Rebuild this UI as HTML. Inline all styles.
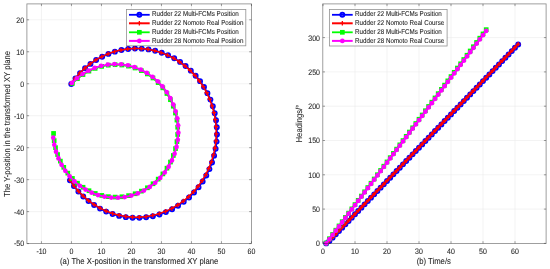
<!DOCTYPE html><html><head><meta charset="utf-8"><style>html,body{margin:0;padding:0;background:#fff;width:550px;height:269px;overflow:hidden}svg{display:block}text{font-family:"Liberation Sans",Arial,sans-serif;fill:#262626;text-rendering:geometricPrecision;stroke:#262626;stroke-width:0.08}</style></head><body>
<svg width="550" height="269" viewBox="0 0 550 269">
<rect width="550" height="269" fill="#fff"/>
<path d="M41.45 3.90V243.40M71.45 3.90V243.40M101.45 3.90V243.40M131.45 3.90V243.40M161.45 3.90V243.40M191.45 3.90V243.40M221.45 3.90V243.40M26.90 211.62H251.40M26.90 179.65H251.40M26.90 147.68H251.40M26.90 115.71H251.40M26.90 83.74H251.40M26.90 51.77H251.40M26.90 19.80H251.40" stroke="#ebebeb" stroke-width="0.6" fill="none"/>
<path d="M355.00 3.90V243.40M387.00 3.90V243.40M419.00 3.90V243.40M451.00 3.90V243.40M483.00 3.90V243.40M515.00 3.90V243.40M322.80 209.10H546.10M322.80 174.80H546.10M322.80 140.50H546.10M322.80 106.20H546.10M322.80 71.90H546.10M322.80 37.60H546.10" stroke="#ebebeb" stroke-width="0.6" fill="none"/>
<svg x="26.90" y="3.90" width="224.50" height="239.50" overflow="visible"><g transform="translate(-26.90,-3.90)">
<path d="M71.26 84.00L75.44 78.35L80.05 73.09L85.07 68.26L90.45 63.90L96.17 60.03L102.17 56.69L108.42 53.89L114.88 51.65L121.48 50.00L128.20 48.95L134.98 48.50L141.77 48.65L148.52 49.40L155.19 50.76L161.73 52.70L168.09 55.22L174.22 58.30L180.08 61.91L185.64 66.03L190.84 70.64L195.66 75.68L200.06 81.14L204.00 86.97L207.46 93.14L210.42 99.58L212.84 106.27L214.73 113.15L216.06 120.18L216.81 127.30L217.00 134.45L216.61 141.60L215.65 148.69L214.13 155.67L212.05 162.49L209.44 169.10L206.30 175.46L202.67 181.51L198.56 187.21L194.02 192.53L189.06 197.43L183.73 201.86L178.06 205.81L172.10 209.24L165.88 212.12L159.45 214.44L152.87 216.18L146.16 217.32L139.39 217.87L132.60 217.81L125.84 217.14L119.15 215.88L112.59 214.02L106.20 211.59L100.03 208.60L94.13 205.06L88.52 201.02L83.26 196.49L78.38 191.50L73.92 186.10L69.91 180.33" stroke="#0000ff" stroke-width="1.8" fill="none" stroke-linejoin="round"/>
<g stroke="#0000ff" stroke-width="1.9" fill="none"><circle cx="71.26" cy="84.00" r="2.0"/><circle cx="75.44" cy="78.35" r="2.0"/><circle cx="80.05" cy="73.09" r="2.0"/><circle cx="85.07" cy="68.26" r="2.0"/><circle cx="90.45" cy="63.90" r="2.0"/><circle cx="96.17" cy="60.03" r="2.0"/><circle cx="102.17" cy="56.69" r="2.0"/><circle cx="108.42" cy="53.89" r="2.0"/><circle cx="114.88" cy="51.65" r="2.0"/><circle cx="121.48" cy="50.00" r="2.0"/><circle cx="128.20" cy="48.95" r="2.0"/><circle cx="134.98" cy="48.50" r="2.0"/><circle cx="141.77" cy="48.65" r="2.0"/><circle cx="148.52" cy="49.40" r="2.0"/><circle cx="155.19" cy="50.76" r="2.0"/><circle cx="161.73" cy="52.70" r="2.0"/><circle cx="168.09" cy="55.22" r="2.0"/><circle cx="174.22" cy="58.30" r="2.0"/><circle cx="180.08" cy="61.91" r="2.0"/><circle cx="185.64" cy="66.03" r="2.0"/><circle cx="190.84" cy="70.64" r="2.0"/><circle cx="195.66" cy="75.68" r="2.0"/><circle cx="200.06" cy="81.14" r="2.0"/><circle cx="204.00" cy="86.97" r="2.0"/><circle cx="207.46" cy="93.14" r="2.0"/><circle cx="210.42" cy="99.58" r="2.0"/><circle cx="212.84" cy="106.27" r="2.0"/><circle cx="214.73" cy="113.15" r="2.0"/><circle cx="216.06" cy="120.18" r="2.0"/><circle cx="216.81" cy="127.30" r="2.0"/><circle cx="217.00" cy="134.45" r="2.0"/><circle cx="216.61" cy="141.60" r="2.0"/><circle cx="215.65" cy="148.69" r="2.0"/><circle cx="214.13" cy="155.67" r="2.0"/><circle cx="212.05" cy="162.49" r="2.0"/><circle cx="209.44" cy="169.10" r="2.0"/><circle cx="206.30" cy="175.46" r="2.0"/><circle cx="202.67" cy="181.51" r="2.0"/><circle cx="198.56" cy="187.21" r="2.0"/><circle cx="194.02" cy="192.53" r="2.0"/><circle cx="189.06" cy="197.43" r="2.0"/><circle cx="183.73" cy="201.86" r="2.0"/><circle cx="178.06" cy="205.81" r="2.0"/><circle cx="172.10" cy="209.24" r="2.0"/><circle cx="165.88" cy="212.12" r="2.0"/><circle cx="159.45" cy="214.44" r="2.0"/><circle cx="152.87" cy="216.18" r="2.0"/><circle cx="146.16" cy="217.32" r="2.0"/><circle cx="139.39" cy="217.87" r="2.0"/><circle cx="132.60" cy="217.81" r="2.0"/><circle cx="125.84" cy="217.14" r="2.0"/><circle cx="119.15" cy="215.88" r="2.0"/><circle cx="112.59" cy="214.02" r="2.0"/><circle cx="106.20" cy="211.59" r="2.0"/><circle cx="100.03" cy="208.60" r="2.0"/><circle cx="94.13" cy="205.06" r="2.0"/><circle cx="88.52" cy="201.02" r="2.0"/><circle cx="83.26" cy="196.49" r="2.0"/><circle cx="78.38" cy="191.50" r="2.0"/><circle cx="73.92" cy="186.10" r="2.0"/><circle cx="69.91" cy="180.33" r="2.0"/></g>
<path d="M71.06 83.80L75.21 78.18L79.80 72.95L84.79 68.14L90.15 63.80L95.84 59.94L101.81 56.61L108.03 53.82L114.45 51.59L121.03 49.95L127.71 48.89L134.46 48.43L141.22 48.58L147.94 49.32L154.58 50.66L161.09 52.59L167.42 55.09L173.52 58.14L179.37 61.73L184.90 65.82L190.09 70.39L194.89 75.40L199.28 80.83L203.21 86.62L206.67 92.75L209.62 99.16L212.05 105.81L213.94 112.65L215.28 119.64L216.05 126.72L216.25 133.85L215.89 140.96L214.95 148.02L213.45 154.97L211.40 161.76L208.82 168.35L205.72 174.68L202.12 180.72L198.05 186.41L193.54 191.72L188.63 196.61L183.33 201.04L177.71 204.99L171.78 208.43L165.61 211.32L159.22 213.65L152.67 215.41L146.00 216.58L139.26 217.15L132.51 217.12L125.77 216.49L119.11 215.26L112.58 213.45L106.21 211.06L100.06 208.11L94.16 204.62L88.57 200.63L83.31 196.14L78.43 191.21L73.96 185.86L69.94 180.13" stroke="#ff0000" stroke-width="1.5" fill="none" stroke-linejoin="round"/>
<path d="M68.86 83.80h4.4M71.06 81.60v4.4M73.01 78.18h4.4M75.21 75.98v4.4M77.60 72.95h4.4M79.80 70.75v4.4M82.59 68.14h4.4M84.79 65.94v4.4M87.95 63.80h4.4M90.15 61.60v4.4M93.64 59.94h4.4M95.84 57.74v4.4M99.61 56.61h4.4M101.81 54.41v4.4M105.83 53.82h4.4M108.03 51.62v4.4M112.25 51.59h4.4M114.45 49.39v4.4M118.83 49.95h4.4M121.03 47.75v4.4M125.51 48.89h4.4M127.71 46.69v4.4M132.26 48.43h4.4M134.46 46.23v4.4M139.02 48.58h4.4M141.22 46.38v4.4M145.74 49.32h4.4M147.94 47.12v4.4M152.38 50.66h4.4M154.58 48.46v4.4M158.89 52.59h4.4M161.09 50.39v4.4M165.22 55.09h4.4M167.42 52.89v4.4M171.32 58.14h4.4M173.52 55.94v4.4M177.17 61.73h4.4M179.37 59.53v4.4M182.70 65.82h4.4M184.90 63.62v4.4M187.89 70.39h4.4M190.09 68.19v4.4M192.69 75.40h4.4M194.89 73.20v4.4M197.08 80.83h4.4M199.28 78.63v4.4M201.01 86.62h4.4M203.21 84.42v4.4M204.47 92.75h4.4M206.67 90.55v4.4M207.42 99.16h4.4M209.62 96.96v4.4M209.85 105.81h4.4M212.05 103.61v4.4M211.74 112.65h4.4M213.94 110.45v4.4M213.08 119.64h4.4M215.28 117.44v4.4M213.85 126.72h4.4M216.05 124.52v4.4M214.05 133.85h4.4M216.25 131.65v4.4M213.69 140.96h4.4M215.89 138.76v4.4M212.75 148.02h4.4M214.95 145.82v4.4M211.25 154.97h4.4M213.45 152.77v4.4M209.20 161.76h4.4M211.40 159.56v4.4M206.62 168.35h4.4M208.82 166.15v4.4M203.52 174.68h4.4M205.72 172.48v4.4M199.92 180.72h4.4M202.12 178.52v4.4M195.85 186.41h4.4M198.05 184.21v4.4M191.34 191.72h4.4M193.54 189.52v4.4M186.43 196.61h4.4M188.63 194.41v4.4M181.13 201.04h4.4M183.33 198.84v4.4M175.51 204.99h4.4M177.71 202.79v4.4M169.58 208.43h4.4M171.78 206.23v4.4M163.41 211.32h4.4M165.61 209.12v4.4M157.02 213.65h4.4M159.22 211.45v4.4M150.47 215.41h4.4M152.67 213.21v4.4M143.80 216.58h4.4M146.00 214.38v4.4M137.06 217.15h4.4M139.26 214.95v4.4M130.31 217.12h4.4M132.51 214.92v4.4M123.57 216.49h4.4M125.77 214.29v4.4M116.91 215.26h4.4M119.11 213.06v4.4M110.38 213.45h4.4M112.58 211.25v4.4M104.01 211.06h4.4M106.21 208.86v4.4M97.86 208.11h4.4M100.06 205.91v4.4M91.96 204.62h4.4M94.16 202.42v4.4M86.37 200.63h4.4M88.57 198.43v4.4M81.11 196.14h4.4M83.31 193.94v4.4M76.23 191.21h4.4M78.43 189.01v4.4M71.76 185.86h4.4M73.96 183.66v4.4M67.74 180.13h4.4M69.94 177.93v4.4" stroke="#ff0000" stroke-width="1.3" fill="none"/>
<path d="M72.33 83.43L77.42 78.69L82.97 74.58L88.91 71.13L95.17 68.38L101.66 66.38L108.33 65.15L115.08 64.69L121.83 65.02L128.52 66.12L135.05 68.00L141.35 70.62L147.34 73.95L152.96 77.96L158.14 82.60L162.81 87.81L166.93 93.53L170.44 99.69L173.29 106.22L175.47 113.05L176.94 120.08L177.68 127.25L177.68 134.45L176.95 141.62L175.49 148.66L173.33 155.48L170.48 162.02L166.98 168.19L162.87 173.91L158.20 179.13L153.03 183.77L147.42 187.79L141.42 191.13L135.13 193.76L128.60 195.65L121.92 196.77L115.16 197.10L108.41 196.66L101.75 195.43L95.25 193.44L88.99 190.71L83.05 187.26L77.49 183.16L72.39 178.43L67.80 173.14L63.77 167.34L60.36 161.12L57.61 154.54L55.54 147.67L54.18 140.61L53.56 133.44" stroke="#00ff00" stroke-width="1.8" fill="none" stroke-linejoin="round"/>
<g fill="#00ff00"><rect x="69.98" y="81.08" width="4.7" height="4.7"/><rect x="75.07" y="76.34" width="4.7" height="4.7"/><rect x="80.62" y="72.23" width="4.7" height="4.7"/><rect x="86.56" y="68.78" width="4.7" height="4.7"/><rect x="92.82" y="66.03" width="4.7" height="4.7"/><rect x="99.31" y="64.03" width="4.7" height="4.7"/><rect x="105.98" y="62.80" width="4.7" height="4.7"/><rect x="112.73" y="62.34" width="4.7" height="4.7"/><rect x="119.48" y="62.67" width="4.7" height="4.7"/><rect x="126.17" y="63.77" width="4.7" height="4.7"/><rect x="132.70" y="65.65" width="4.7" height="4.7"/><rect x="139.00" y="68.27" width="4.7" height="4.7"/><rect x="144.99" y="71.60" width="4.7" height="4.7"/><rect x="150.61" y="75.61" width="4.7" height="4.7"/><rect x="155.79" y="80.25" width="4.7" height="4.7"/><rect x="160.46" y="85.46" width="4.7" height="4.7"/><rect x="164.58" y="91.18" width="4.7" height="4.7"/><rect x="168.09" y="97.34" width="4.7" height="4.7"/><rect x="170.94" y="103.87" width="4.7" height="4.7"/><rect x="173.12" y="110.70" width="4.7" height="4.7"/><rect x="174.59" y="117.73" width="4.7" height="4.7"/><rect x="175.33" y="124.90" width="4.7" height="4.7"/><rect x="175.33" y="132.10" width="4.7" height="4.7"/><rect x="174.60" y="139.27" width="4.7" height="4.7"/><rect x="173.14" y="146.31" width="4.7" height="4.7"/><rect x="170.98" y="153.13" width="4.7" height="4.7"/><rect x="168.13" y="159.67" width="4.7" height="4.7"/><rect x="164.63" y="165.84" width="4.7" height="4.7"/><rect x="160.52" y="171.56" width="4.7" height="4.7"/><rect x="155.85" y="176.78" width="4.7" height="4.7"/><rect x="150.68" y="181.42" width="4.7" height="4.7"/><rect x="145.07" y="185.44" width="4.7" height="4.7"/><rect x="139.07" y="188.78" width="4.7" height="4.7"/><rect x="132.78" y="191.41" width="4.7" height="4.7"/><rect x="126.25" y="193.30" width="4.7" height="4.7"/><rect x="119.57" y="194.42" width="4.7" height="4.7"/><rect x="112.81" y="194.75" width="4.7" height="4.7"/><rect x="106.06" y="194.31" width="4.7" height="4.7"/><rect x="99.40" y="193.08" width="4.7" height="4.7"/><rect x="92.90" y="191.09" width="4.7" height="4.7"/><rect x="86.64" y="188.36" width="4.7" height="4.7"/><rect x="80.70" y="184.91" width="4.7" height="4.7"/><rect x="75.14" y="180.81" width="4.7" height="4.7"/><rect x="70.04" y="176.08" width="4.7" height="4.7"/><rect x="65.45" y="170.79" width="4.7" height="4.7"/><rect x="61.42" y="164.99" width="4.7" height="4.7"/><rect x="58.01" y="158.77" width="4.7" height="4.7"/><rect x="55.26" y="152.19" width="4.7" height="4.7"/><rect x="53.19" y="145.32" width="4.7" height="4.7"/><rect x="51.83" y="138.26" width="4.7" height="4.7"/><rect x="51.21" y="131.09" width="4.7" height="4.7"/></g>
<path d="M71.91 82.97L76.99 78.24L82.52 74.12L88.44 70.66L94.67 67.89L101.15 65.86L107.79 64.57L114.52 64.06L121.26 64.32L127.94 65.35L134.48 67.13L140.80 69.66L146.83 72.90L152.50 76.80L157.74 81.34L162.49 86.44L166.70 92.06L170.32 98.14L173.31 104.59L175.63 111.34L177.25 118.32L178.16 125.45L178.35 132.64L177.81 139.81L176.55 146.88L174.59 153.76L171.94 160.38L168.64 166.65L164.73 172.51L160.25 177.89L155.25 182.73L149.80 186.97L143.95 190.55L137.77 193.45L131.33 195.62L124.72 197.04L118.00 197.70L111.25 197.58L104.55 196.69L97.98 195.04L91.61 192.65L85.53 189.54L79.79 185.75L74.47 181.33L69.62 176.32L65.31 170.79L61.57 164.80L58.47 158.41L56.03 151.70L54.27 144.76L53.23 137.65" stroke="#ff00ff" stroke-width="1.8" fill="none" stroke-linejoin="round"/>
<g fill="#ff00ff"><circle cx="71.91" cy="82.97" r="2.35"/><circle cx="76.99" cy="78.24" r="2.35"/><circle cx="82.52" cy="74.12" r="2.35"/><circle cx="88.44" cy="70.66" r="2.35"/><circle cx="94.67" cy="67.89" r="2.35"/><circle cx="101.15" cy="65.86" r="2.35"/><circle cx="107.79" cy="64.57" r="2.35"/><circle cx="114.52" cy="64.06" r="2.35"/><circle cx="121.26" cy="64.32" r="2.35"/><circle cx="127.94" cy="65.35" r="2.35"/><circle cx="134.48" cy="67.13" r="2.35"/><circle cx="140.80" cy="69.66" r="2.35"/><circle cx="146.83" cy="72.90" r="2.35"/><circle cx="152.50" cy="76.80" r="2.35"/><circle cx="157.74" cy="81.34" r="2.35"/><circle cx="162.49" cy="86.44" r="2.35"/><circle cx="166.70" cy="92.06" r="2.35"/><circle cx="170.32" cy="98.14" r="2.35"/><circle cx="173.31" cy="104.59" r="2.35"/><circle cx="175.63" cy="111.34" r="2.35"/><circle cx="177.25" cy="118.32" r="2.35"/><circle cx="178.16" cy="125.45" r="2.35"/><circle cx="178.35" cy="132.64" r="2.35"/><circle cx="177.81" cy="139.81" r="2.35"/><circle cx="176.55" cy="146.88" r="2.35"/><circle cx="174.59" cy="153.76" r="2.35"/><circle cx="171.94" cy="160.38" r="2.35"/><circle cx="168.64" cy="166.65" r="2.35"/><circle cx="164.73" cy="172.51" r="2.35"/><circle cx="160.25" cy="177.89" r="2.35"/><circle cx="155.25" cy="182.73" r="2.35"/><circle cx="149.80" cy="186.97" r="2.35"/><circle cx="143.95" cy="190.55" r="2.35"/><circle cx="137.77" cy="193.45" r="2.35"/><circle cx="131.33" cy="195.62" r="2.35"/><circle cx="124.72" cy="197.04" r="2.35"/><circle cx="118.00" cy="197.70" r="2.35"/><circle cx="111.25" cy="197.58" r="2.35"/><circle cx="104.55" cy="196.69" r="2.35"/><circle cx="97.98" cy="195.04" r="2.35"/><circle cx="91.61" cy="192.65" r="2.35"/><circle cx="85.53" cy="189.54" r="2.35"/><circle cx="79.79" cy="185.75" r="2.35"/><circle cx="74.47" cy="181.33" r="2.35"/><circle cx="69.62" cy="176.32" r="2.35"/><circle cx="65.31" cy="170.79" r="2.35"/><circle cx="61.57" cy="164.80" r="2.35"/><circle cx="58.47" cy="158.41" r="2.35"/><circle cx="56.03" cy="151.70" r="2.35"/><circle cx="54.27" cy="144.76" r="2.35"/><circle cx="53.23" cy="137.65" r="2.35"/></g>
</g></svg>
<path d="M326.20 243.40L329.40 240.96L332.60 237.63L335.80 234.30L339.00 230.97L342.20 227.64L345.40 224.31L348.60 220.98L351.80 217.65L355.00 214.32L358.20 210.99L361.40 207.66L364.60 204.33L367.80 200.99L371.00 197.66L374.20 194.33L377.40 191.00L380.60 187.67L383.80 184.34L387.00 181.01L390.20 177.68L393.40 174.35L396.60 171.02L399.80 167.69L403.00 164.36L406.20 161.03L409.40 157.70L412.60 154.37L415.80 151.04L419.00 147.71L422.20 144.38L425.40 141.05L428.60 137.71L431.80 134.38L435.00 131.05L438.20 127.72L441.40 124.39L444.60 121.06L447.80 117.73L451.00 114.40L454.20 111.07L457.40 107.74L460.60 104.41L463.80 101.08L467.00 97.75L470.20 94.42L473.40 91.09L476.60 87.76L479.80 84.43L483.00 81.10L486.20 77.77L489.40 74.43L492.60 71.10L495.80 67.77L499.00 64.44L502.20 61.11L505.40 57.78L508.60 54.45L511.80 51.12L515.00 47.79L518.20 44.46" stroke="#0000ff" stroke-width="1.8" fill="none" stroke-linejoin="round"/>
<g stroke="#0000ff" stroke-width="1.9" fill="none"><circle cx="326.20" cy="243.40" r="2.0"/><circle cx="329.40" cy="240.96" r="2.0"/><circle cx="332.60" cy="237.63" r="2.0"/><circle cx="335.80" cy="234.30" r="2.0"/><circle cx="339.00" cy="230.97" r="2.0"/><circle cx="342.20" cy="227.64" r="2.0"/><circle cx="345.40" cy="224.31" r="2.0"/><circle cx="348.60" cy="220.98" r="2.0"/><circle cx="351.80" cy="217.65" r="2.0"/><circle cx="355.00" cy="214.32" r="2.0"/><circle cx="358.20" cy="210.99" r="2.0"/><circle cx="361.40" cy="207.66" r="2.0"/><circle cx="364.60" cy="204.33" r="2.0"/><circle cx="367.80" cy="200.99" r="2.0"/><circle cx="371.00" cy="197.66" r="2.0"/><circle cx="374.20" cy="194.33" r="2.0"/><circle cx="377.40" cy="191.00" r="2.0"/><circle cx="380.60" cy="187.67" r="2.0"/><circle cx="383.80" cy="184.34" r="2.0"/><circle cx="387.00" cy="181.01" r="2.0"/><circle cx="390.20" cy="177.68" r="2.0"/><circle cx="393.40" cy="174.35" r="2.0"/><circle cx="396.60" cy="171.02" r="2.0"/><circle cx="399.80" cy="167.69" r="2.0"/><circle cx="403.00" cy="164.36" r="2.0"/><circle cx="406.20" cy="161.03" r="2.0"/><circle cx="409.40" cy="157.70" r="2.0"/><circle cx="412.60" cy="154.37" r="2.0"/><circle cx="415.80" cy="151.04" r="2.0"/><circle cx="419.00" cy="147.71" r="2.0"/><circle cx="422.20" cy="144.38" r="2.0"/><circle cx="425.40" cy="141.05" r="2.0"/><circle cx="428.60" cy="137.71" r="2.0"/><circle cx="431.80" cy="134.38" r="2.0"/><circle cx="435.00" cy="131.05" r="2.0"/><circle cx="438.20" cy="127.72" r="2.0"/><circle cx="441.40" cy="124.39" r="2.0"/><circle cx="444.60" cy="121.06" r="2.0"/><circle cx="447.80" cy="117.73" r="2.0"/><circle cx="451.00" cy="114.40" r="2.0"/><circle cx="454.20" cy="111.07" r="2.0"/><circle cx="457.40" cy="107.74" r="2.0"/><circle cx="460.60" cy="104.41" r="2.0"/><circle cx="463.80" cy="101.08" r="2.0"/><circle cx="467.00" cy="97.75" r="2.0"/><circle cx="470.20" cy="94.42" r="2.0"/><circle cx="473.40" cy="91.09" r="2.0"/><circle cx="476.60" cy="87.76" r="2.0"/><circle cx="479.80" cy="84.43" r="2.0"/><circle cx="483.00" cy="81.10" r="2.0"/><circle cx="486.20" cy="77.77" r="2.0"/><circle cx="489.40" cy="74.43" r="2.0"/><circle cx="492.60" cy="71.10" r="2.0"/><circle cx="495.80" cy="67.77" r="2.0"/><circle cx="499.00" cy="64.44" r="2.0"/><circle cx="502.20" cy="61.11" r="2.0"/><circle cx="505.40" cy="57.78" r="2.0"/><circle cx="508.60" cy="54.45" r="2.0"/><circle cx="511.80" cy="51.12" r="2.0"/><circle cx="515.00" cy="47.79" r="2.0"/><circle cx="518.20" cy="44.46" r="2.0"/></g>
<path d="M326.20 243.40L329.40 240.62L332.60 237.29L335.80 233.96L339.00 230.63L342.20 227.30L345.40 223.97L348.60 220.64L351.80 217.30L355.00 213.97L358.20 210.64L361.40 207.31L364.60 203.98L367.80 200.65L371.00 197.32L374.20 193.99L377.40 190.66L380.60 187.33L383.80 184.00L387.00 180.67L390.20 177.34L393.40 174.01L396.60 170.68L399.80 167.35L403.00 164.02L406.20 160.69L409.40 157.36L412.60 154.02L415.80 150.69L419.00 147.36L422.20 144.03L425.40 140.70L428.60 137.37L431.80 134.04L435.00 130.71L438.20 127.38L441.40 124.05L444.60 120.72L447.80 117.39L451.00 114.06L454.20 110.73L457.40 107.40L460.60 104.07L463.80 100.74L467.00 97.41L470.20 94.07L473.40 90.74L476.60 87.41L479.80 84.08L483.00 80.75L486.20 77.42L489.40 74.09L492.60 70.76L495.80 67.43L499.00 64.10L502.20 60.77L505.40 57.44L508.60 54.11L511.80 50.78L515.00 47.45L518.20 44.12" stroke="#ff0000" stroke-width="2.0" fill="none" stroke-linejoin="round"/>
<path d="M324.00 243.40h4.4M326.20 241.20v4.4M327.20 240.62h4.4M329.40 238.42v4.4M330.40 237.29h4.4M332.60 235.09v4.4M333.60 233.96h4.4M335.80 231.76v4.4M336.80 230.63h4.4M339.00 228.43v4.4M340.00 227.30h4.4M342.20 225.10v4.4M343.20 223.97h4.4M345.40 221.77v4.4M346.40 220.64h4.4M348.60 218.44v4.4M349.60 217.30h4.4M351.80 215.10v4.4M352.80 213.97h4.4M355.00 211.77v4.4M356.00 210.64h4.4M358.20 208.44v4.4M359.20 207.31h4.4M361.40 205.11v4.4M362.40 203.98h4.4M364.60 201.78v4.4M365.60 200.65h4.4M367.80 198.45v4.4M368.80 197.32h4.4M371.00 195.12v4.4M372.00 193.99h4.4M374.20 191.79v4.4M375.20 190.66h4.4M377.40 188.46v4.4M378.40 187.33h4.4M380.60 185.13v4.4M381.60 184.00h4.4M383.80 181.80v4.4M384.80 180.67h4.4M387.00 178.47v4.4M388.00 177.34h4.4M390.20 175.14v4.4M391.20 174.01h4.4M393.40 171.81v4.4M394.40 170.68h4.4M396.60 168.48v4.4M397.60 167.35h4.4M399.80 165.15v4.4M400.80 164.02h4.4M403.00 161.82v4.4M404.00 160.69h4.4M406.20 158.49v4.4M407.20 157.36h4.4M409.40 155.16v4.4M410.40 154.02h4.4M412.60 151.82v4.4M413.60 150.69h4.4M415.80 148.49v4.4M416.80 147.36h4.4M419.00 145.16v4.4M420.00 144.03h4.4M422.20 141.83v4.4M423.20 140.70h4.4M425.40 138.50v4.4M426.40 137.37h4.4M428.60 135.17v4.4M429.60 134.04h4.4M431.80 131.84v4.4M432.80 130.71h4.4M435.00 128.51v4.4M436.00 127.38h4.4M438.20 125.18v4.4M439.20 124.05h4.4M441.40 121.85v4.4M442.40 120.72h4.4M444.60 118.52v4.4M445.60 117.39h4.4M447.80 115.19v4.4M448.80 114.06h4.4M451.00 111.86v4.4M452.00 110.73h4.4M454.20 108.53v4.4M455.20 107.40h4.4M457.40 105.20v4.4M458.40 104.07h4.4M460.60 101.87v4.4M461.60 100.74h4.4M463.80 98.54v4.4M464.80 97.41h4.4M467.00 95.21v4.4M468.00 94.07h4.4M470.20 91.87v4.4M471.20 90.74h4.4M473.40 88.54v4.4M474.40 87.41h4.4M476.60 85.21v4.4M477.60 84.08h4.4M479.80 81.88v4.4M480.80 80.75h4.4M483.00 78.55v4.4M484.00 77.42h4.4M486.20 75.22v4.4M487.20 74.09h4.4M489.40 71.89v4.4M490.40 70.76h4.4M492.60 68.56v4.4M493.60 67.43h4.4M495.80 65.23v4.4M496.80 64.10h4.4M499.00 61.90v4.4M500.00 60.77h4.4M502.20 58.57v4.4M503.20 57.44h4.4M505.40 55.24v4.4M506.40 54.11h4.4M508.60 51.91v4.4M509.60 50.78h4.4M511.80 48.58v4.4M512.80 47.45h4.4M515.00 45.25v4.4M516.00 44.12h4.4M518.20 41.92v4.4" stroke="#ff0000" stroke-width="1.3" fill="none"/>
<path d="M326.20 242.99L329.40 238.72L332.60 234.45L335.80 230.19L339.00 225.92L342.20 221.65L345.40 217.39L348.60 213.12L351.80 208.85L355.00 204.59L358.20 200.32L361.40 196.05L364.60 191.79L367.80 187.52L371.00 183.25L374.20 178.98L377.40 174.72L380.60 170.45L383.80 166.18L387.00 161.92L390.20 157.65L393.40 153.38L396.60 149.12L399.80 144.85L403.00 140.58L406.20 136.32L409.40 132.05L412.60 127.78L415.80 123.51L419.00 119.25L422.20 114.98L425.40 110.71L428.60 106.45L431.80 102.18L435.00 97.91L438.20 93.65L441.40 89.38L444.60 85.11L447.80 80.85L451.00 76.58L454.20 72.31L457.40 68.04L460.60 63.78L463.80 59.51L467.00 55.24L470.20 50.98L473.40 46.71L476.60 42.44L479.80 38.18L483.00 33.91L486.20 29.64" stroke="#00ff00" stroke-width="1.8" fill="none" stroke-linejoin="round"/>
<g fill="#00ff00"><rect x="323.85" y="240.64" width="4.7" height="4.7"/><rect x="327.05" y="236.37" width="4.7" height="4.7"/><rect x="330.25" y="232.10" width="4.7" height="4.7"/><rect x="333.45" y="227.84" width="4.7" height="4.7"/><rect x="336.65" y="223.57" width="4.7" height="4.7"/><rect x="339.85" y="219.30" width="4.7" height="4.7"/><rect x="343.05" y="215.04" width="4.7" height="4.7"/><rect x="346.25" y="210.77" width="4.7" height="4.7"/><rect x="349.45" y="206.50" width="4.7" height="4.7"/><rect x="352.65" y="202.24" width="4.7" height="4.7"/><rect x="355.85" y="197.97" width="4.7" height="4.7"/><rect x="359.05" y="193.70" width="4.7" height="4.7"/><rect x="362.25" y="189.44" width="4.7" height="4.7"/><rect x="365.45" y="185.17" width="4.7" height="4.7"/><rect x="368.65" y="180.90" width="4.7" height="4.7"/><rect x="371.85" y="176.63" width="4.7" height="4.7"/><rect x="375.05" y="172.37" width="4.7" height="4.7"/><rect x="378.25" y="168.10" width="4.7" height="4.7"/><rect x="381.45" y="163.83" width="4.7" height="4.7"/><rect x="384.65" y="159.57" width="4.7" height="4.7"/><rect x="387.85" y="155.30" width="4.7" height="4.7"/><rect x="391.05" y="151.03" width="4.7" height="4.7"/><rect x="394.25" y="146.77" width="4.7" height="4.7"/><rect x="397.45" y="142.50" width="4.7" height="4.7"/><rect x="400.65" y="138.23" width="4.7" height="4.7"/><rect x="403.85" y="133.97" width="4.7" height="4.7"/><rect x="407.05" y="129.70" width="4.7" height="4.7"/><rect x="410.25" y="125.43" width="4.7" height="4.7"/><rect x="413.45" y="121.16" width="4.7" height="4.7"/><rect x="416.65" y="116.90" width="4.7" height="4.7"/><rect x="419.85" y="112.63" width="4.7" height="4.7"/><rect x="423.05" y="108.36" width="4.7" height="4.7"/><rect x="426.25" y="104.10" width="4.7" height="4.7"/><rect x="429.45" y="99.83" width="4.7" height="4.7"/><rect x="432.65" y="95.56" width="4.7" height="4.7"/><rect x="435.85" y="91.30" width="4.7" height="4.7"/><rect x="439.05" y="87.03" width="4.7" height="4.7"/><rect x="442.25" y="82.76" width="4.7" height="4.7"/><rect x="445.45" y="78.50" width="4.7" height="4.7"/><rect x="448.65" y="74.23" width="4.7" height="4.7"/><rect x="451.85" y="69.96" width="4.7" height="4.7"/><rect x="455.05" y="65.69" width="4.7" height="4.7"/><rect x="458.25" y="61.43" width="4.7" height="4.7"/><rect x="461.45" y="57.16" width="4.7" height="4.7"/><rect x="464.65" y="52.89" width="4.7" height="4.7"/><rect x="467.85" y="48.63" width="4.7" height="4.7"/><rect x="471.05" y="44.36" width="4.7" height="4.7"/><rect x="474.25" y="40.09" width="4.7" height="4.7"/><rect x="477.45" y="35.83" width="4.7" height="4.7"/><rect x="480.65" y="31.56" width="4.7" height="4.7"/><rect x="483.85" y="27.29" width="4.7" height="4.7"/></g>
<path d="M326.20 243.40L329.40 239.15L332.60 234.90L335.80 230.65L339.00 226.40L342.20 222.15L345.40 217.90L348.60 213.65L351.80 209.40L355.00 205.15L358.20 200.90L361.40 196.64L364.60 192.39L367.80 188.14L371.00 183.89L374.20 179.64L377.40 175.39L380.60 171.14L383.80 166.89L387.00 162.64L390.20 158.39L393.40 154.14L396.60 149.89L399.80 145.64L403.00 141.39L406.20 137.14L409.40 132.89L412.60 128.64L415.80 124.39L419.00 120.14L422.20 115.89L425.40 111.64L428.60 107.39L431.80 103.13L435.00 98.88L438.20 94.63L441.40 90.38L444.60 86.13L447.80 81.88L451.00 77.63L454.20 73.38L457.40 69.13L460.60 64.88L463.80 60.63L467.00 56.38L470.20 52.13L473.40 47.88L476.60 43.63L479.80 39.38L483.00 35.13L486.20 30.88" stroke="#ff00ff" stroke-width="1.8" fill="none" stroke-linejoin="round"/>
<g fill="#ff00ff"><circle cx="326.20" cy="243.40" r="2.35"/><circle cx="329.40" cy="239.15" r="2.35"/><circle cx="332.60" cy="234.90" r="2.35"/><circle cx="335.80" cy="230.65" r="2.35"/><circle cx="339.00" cy="226.40" r="2.35"/><circle cx="342.20" cy="222.15" r="2.35"/><circle cx="345.40" cy="217.90" r="2.35"/><circle cx="348.60" cy="213.65" r="2.35"/><circle cx="351.80" cy="209.40" r="2.35"/><circle cx="355.00" cy="205.15" r="2.35"/><circle cx="358.20" cy="200.90" r="2.35"/><circle cx="361.40" cy="196.64" r="2.35"/><circle cx="364.60" cy="192.39" r="2.35"/><circle cx="367.80" cy="188.14" r="2.35"/><circle cx="371.00" cy="183.89" r="2.35"/><circle cx="374.20" cy="179.64" r="2.35"/><circle cx="377.40" cy="175.39" r="2.35"/><circle cx="380.60" cy="171.14" r="2.35"/><circle cx="383.80" cy="166.89" r="2.35"/><circle cx="387.00" cy="162.64" r="2.35"/><circle cx="390.20" cy="158.39" r="2.35"/><circle cx="393.40" cy="154.14" r="2.35"/><circle cx="396.60" cy="149.89" r="2.35"/><circle cx="399.80" cy="145.64" r="2.35"/><circle cx="403.00" cy="141.39" r="2.35"/><circle cx="406.20" cy="137.14" r="2.35"/><circle cx="409.40" cy="132.89" r="2.35"/><circle cx="412.60" cy="128.64" r="2.35"/><circle cx="415.80" cy="124.39" r="2.35"/><circle cx="419.00" cy="120.14" r="2.35"/><circle cx="422.20" cy="115.89" r="2.35"/><circle cx="425.40" cy="111.64" r="2.35"/><circle cx="428.60" cy="107.39" r="2.35"/><circle cx="431.80" cy="103.13" r="2.35"/><circle cx="435.00" cy="98.88" r="2.35"/><circle cx="438.20" cy="94.63" r="2.35"/><circle cx="441.40" cy="90.38" r="2.35"/><circle cx="444.60" cy="86.13" r="2.35"/><circle cx="447.80" cy="81.88" r="2.35"/><circle cx="451.00" cy="77.63" r="2.35"/><circle cx="454.20" cy="73.38" r="2.35"/><circle cx="457.40" cy="69.13" r="2.35"/><circle cx="460.60" cy="64.88" r="2.35"/><circle cx="463.80" cy="60.63" r="2.35"/><circle cx="467.00" cy="56.38" r="2.35"/><circle cx="470.20" cy="52.13" r="2.35"/><circle cx="473.40" cy="47.88" r="2.35"/><circle cx="476.60" cy="43.63" r="2.35"/><circle cx="479.80" cy="39.38" r="2.35"/><circle cx="483.00" cy="35.13" r="2.35"/><circle cx="486.20" cy="30.88" r="2.35"/></g>
<rect x="26.90" y="3.90" width="224.50" height="239.50" stroke="#262626" stroke-opacity="0.55" stroke-width="0.8" fill="none"/>
<path d="M41.45 243.40v-2.2M41.45 3.90v2.2M71.45 243.40v-2.2M71.45 3.90v2.2M101.45 243.40v-2.2M101.45 3.90v2.2M131.45 243.40v-2.2M131.45 3.90v2.2M161.45 243.40v-2.2M161.45 3.90v2.2M191.45 243.40v-2.2M191.45 3.90v2.2M221.45 243.40v-2.2M221.45 3.90v2.2M251.45 243.40v-2.2M251.45 3.90v2.2M26.90 243.59h2.2M251.40 243.59h-2.2M26.90 211.62h2.2M251.40 211.62h-2.2M26.90 179.65h2.2M251.40 179.65h-2.2M26.90 147.68h2.2M251.40 147.68h-2.2M26.90 115.71h2.2M251.40 115.71h-2.2M26.90 83.74h2.2M251.40 83.74h-2.2M26.90 51.77h2.2M251.40 51.77h-2.2M26.90 19.80h2.2M251.40 19.80h-2.2" stroke="#262626" stroke-opacity="0.55" stroke-width="0.8" fill="none"/>
<text transform="translate(41.45,254.00) scale(1,1.13)" font-size="7.0" text-anchor="middle">-10</text>
<text transform="translate(71.45,254.00) scale(1,1.13)" font-size="7.0" text-anchor="middle">0</text>
<text transform="translate(101.45,254.00) scale(1,1.13)" font-size="7.0" text-anchor="middle">10</text>
<text transform="translate(131.45,254.00) scale(1,1.13)" font-size="7.0" text-anchor="middle">20</text>
<text transform="translate(161.45,254.00) scale(1,1.13)" font-size="7.0" text-anchor="middle">30</text>
<text transform="translate(191.45,254.00) scale(1,1.13)" font-size="7.0" text-anchor="middle">40</text>
<text transform="translate(221.45,254.00) scale(1,1.13)" font-size="7.0" text-anchor="middle">50</text>
<text transform="translate(251.45,254.00) scale(1,1.13)" font-size="7.0" text-anchor="middle">60</text>
<text transform="translate(24.10,246.49) scale(1,1.13)" font-size="7.0" text-anchor="end">-50</text>
<text transform="translate(24.10,214.52) scale(1,1.13)" font-size="7.0" text-anchor="end">-40</text>
<text transform="translate(24.10,182.55) scale(1,1.13)" font-size="7.0" text-anchor="end">-30</text>
<text transform="translate(24.10,150.58) scale(1,1.13)" font-size="7.0" text-anchor="end">-20</text>
<text transform="translate(24.10,118.61) scale(1,1.13)" font-size="7.0" text-anchor="end">-10</text>
<text transform="translate(24.10,86.64) scale(1,1.13)" font-size="7.0" text-anchor="end">0</text>
<text transform="translate(24.10,54.67) scale(1,1.13)" font-size="7.0" text-anchor="end">10</text>
<text transform="translate(24.10,22.70) scale(1,1.13)" font-size="7.0" text-anchor="end">20</text>
<rect x="322.80" y="3.90" width="223.30" height="239.50" stroke="#262626" stroke-opacity="0.55" stroke-width="0.8" fill="none"/>
<path d="M323.00 243.40v-2.2M323.00 3.90v2.2M355.00 243.40v-2.2M355.00 3.90v2.2M387.00 243.40v-2.2M387.00 3.90v2.2M419.00 243.40v-2.2M419.00 3.90v2.2M451.00 243.40v-2.2M451.00 3.90v2.2M483.00 243.40v-2.2M483.00 3.90v2.2M515.00 243.40v-2.2M515.00 3.90v2.2M322.80 243.40h2.2M546.10 243.40h-2.2M322.80 209.10h2.2M546.10 209.10h-2.2M322.80 174.80h2.2M546.10 174.80h-2.2M322.80 140.50h2.2M546.10 140.50h-2.2M322.80 106.20h2.2M546.10 106.20h-2.2M322.80 71.90h2.2M546.10 71.90h-2.2M322.80 37.60h2.2M546.10 37.60h-2.2" stroke="#262626" stroke-opacity="0.55" stroke-width="0.8" fill="none"/>
<text transform="translate(323.00,254.00) scale(1,1.13)" font-size="7.0" text-anchor="middle">0</text>
<text transform="translate(355.00,254.00) scale(1,1.13)" font-size="7.0" text-anchor="middle">10</text>
<text transform="translate(387.00,254.00) scale(1,1.13)" font-size="7.0" text-anchor="middle">20</text>
<text transform="translate(419.00,254.00) scale(1,1.13)" font-size="7.0" text-anchor="middle">30</text>
<text transform="translate(451.00,254.00) scale(1,1.13)" font-size="7.0" text-anchor="middle">40</text>
<text transform="translate(483.00,254.00) scale(1,1.13)" font-size="7.0" text-anchor="middle">50</text>
<text transform="translate(515.00,254.00) scale(1,1.13)" font-size="7.0" text-anchor="middle">60</text>
<text transform="translate(320.00,246.30) scale(1,1.13)" font-size="7.0" text-anchor="end">0</text>
<text transform="translate(320.00,212.00) scale(1,1.13)" font-size="7.0" text-anchor="end">50</text>
<text transform="translate(320.00,177.70) scale(1,1.13)" font-size="7.0" text-anchor="end">100</text>
<text transform="translate(320.00,143.40) scale(1,1.13)" font-size="7.0" text-anchor="end">150</text>
<text transform="translate(320.00,109.10) scale(1,1.13)" font-size="7.0" text-anchor="end">200</text>
<text transform="translate(320.00,74.80) scale(1,1.13)" font-size="7.0" text-anchor="end">250</text>
<text transform="translate(320.00,40.50) scale(1,1.13)" font-size="7.0" text-anchor="end">300</text>
<rect x="126.40" y="9.40" width="119.40" height="36.40" fill="#fff" stroke="#262626" stroke-opacity="0.5" stroke-width="0.8"/>
<path d="M129.00 14.80H149.70" stroke="#0000ff" stroke-width="1.8"/>
<g stroke="#0000ff" stroke-width="1.9" fill="none"><circle cx="139.35" cy="14.80" r="2.0"/></g>
<text transform="translate(152.00,16.20) scale(1,1.13)" font-size="6.25">Rudder 22 Multi-FCMs Position</text>
<path d="M129.00 23.30H149.70" stroke="#ff0000" stroke-width="2.0"/>
<path d="M137.15 23.30h4.4M139.35 21.10v4.4" stroke="#ff0000" stroke-width="1.3" fill="none"/>
<text transform="translate(152.00,24.80) scale(1,1.13)" font-size="6.25">Rudder 22 Nomoto Real Position</text>
<path d="M129.00 32.30H149.70" stroke="#00ff00" stroke-width="1.8"/>
<g fill="#00ff00"><rect x="137.00" y="29.95" width="4.7" height="4.7"/></g>
<text transform="translate(152.00,33.90) scale(1,1.13)" font-size="6.25">Rudder 28 Multi-FCMs Position</text>
<path d="M129.00 40.90H149.70" stroke="#ff00ff" stroke-width="2.0"/>
<g fill="#ff00ff"><circle cx="139.35" cy="40.90" r="2.35"/></g>
<text transform="translate(152.00,42.80) scale(1,1.13)" font-size="6.25">Rudder 28 Nomoto Real Position</text>
<rect x="329.40" y="9.40" width="117.70" height="36.60" fill="#fff" stroke="#262626" stroke-opacity="0.5" stroke-width="0.8"/>
<path d="M332.00 14.80H352.70" stroke="#0000ff" stroke-width="1.8"/>
<g stroke="#0000ff" stroke-width="1.9" fill="none"><circle cx="342.35" cy="14.80" r="2.0"/></g>
<text transform="translate(355.00,16.20) scale(1,1.13)" font-size="6.25">Rudder 22 Multi-FCMs Position</text>
<path d="M332.00 23.30H352.70" stroke="#ff0000" stroke-width="2.0"/>
<path d="M340.15 23.30h4.4M342.35 21.10v4.4" stroke="#ff0000" stroke-width="1.3" fill="none"/>
<text transform="translate(355.00,24.80) scale(1,1.13)" font-size="6.25">Rudder 22 Nomoto Real Course</text>
<path d="M332.00 32.30H352.70" stroke="#00ff00" stroke-width="1.8"/>
<g fill="#00ff00"><rect x="340.00" y="29.95" width="4.7" height="4.7"/></g>
<text transform="translate(355.00,33.90) scale(1,1.13)" font-size="6.25">Rudder 28 Multi-FCMs Position</text>
<path d="M332.00 40.90H352.70" stroke="#ff00ff" stroke-width="2.0"/>
<g fill="#ff00ff"><circle cx="342.35" cy="40.90" r="2.35"/></g>
<text transform="translate(355.00,42.80) scale(1,1.13)" font-size="6.25">Rudder 28 Nomoto Real Course</text>
<text transform="translate(60.00,263.70) scale(1,1.13)" font-size="7.7">(a) The X-position in the transformed XY plane</text>
<text transform="translate(416.70,263.70) scale(1,1.13)" font-size="7.7">(b) Time/s</text>
<text transform="translate(10.40,124.00) rotate(-90) scale(1,1.13)" font-size="7.7" text-anchor="middle">The Y-position in the transformed XY plane</text>
<text transform="translate(301.90,123.60) rotate(-90) scale(1,1.13)" font-size="7.7" text-anchor="middle">Headings/°</text>
</svg></body></html>
